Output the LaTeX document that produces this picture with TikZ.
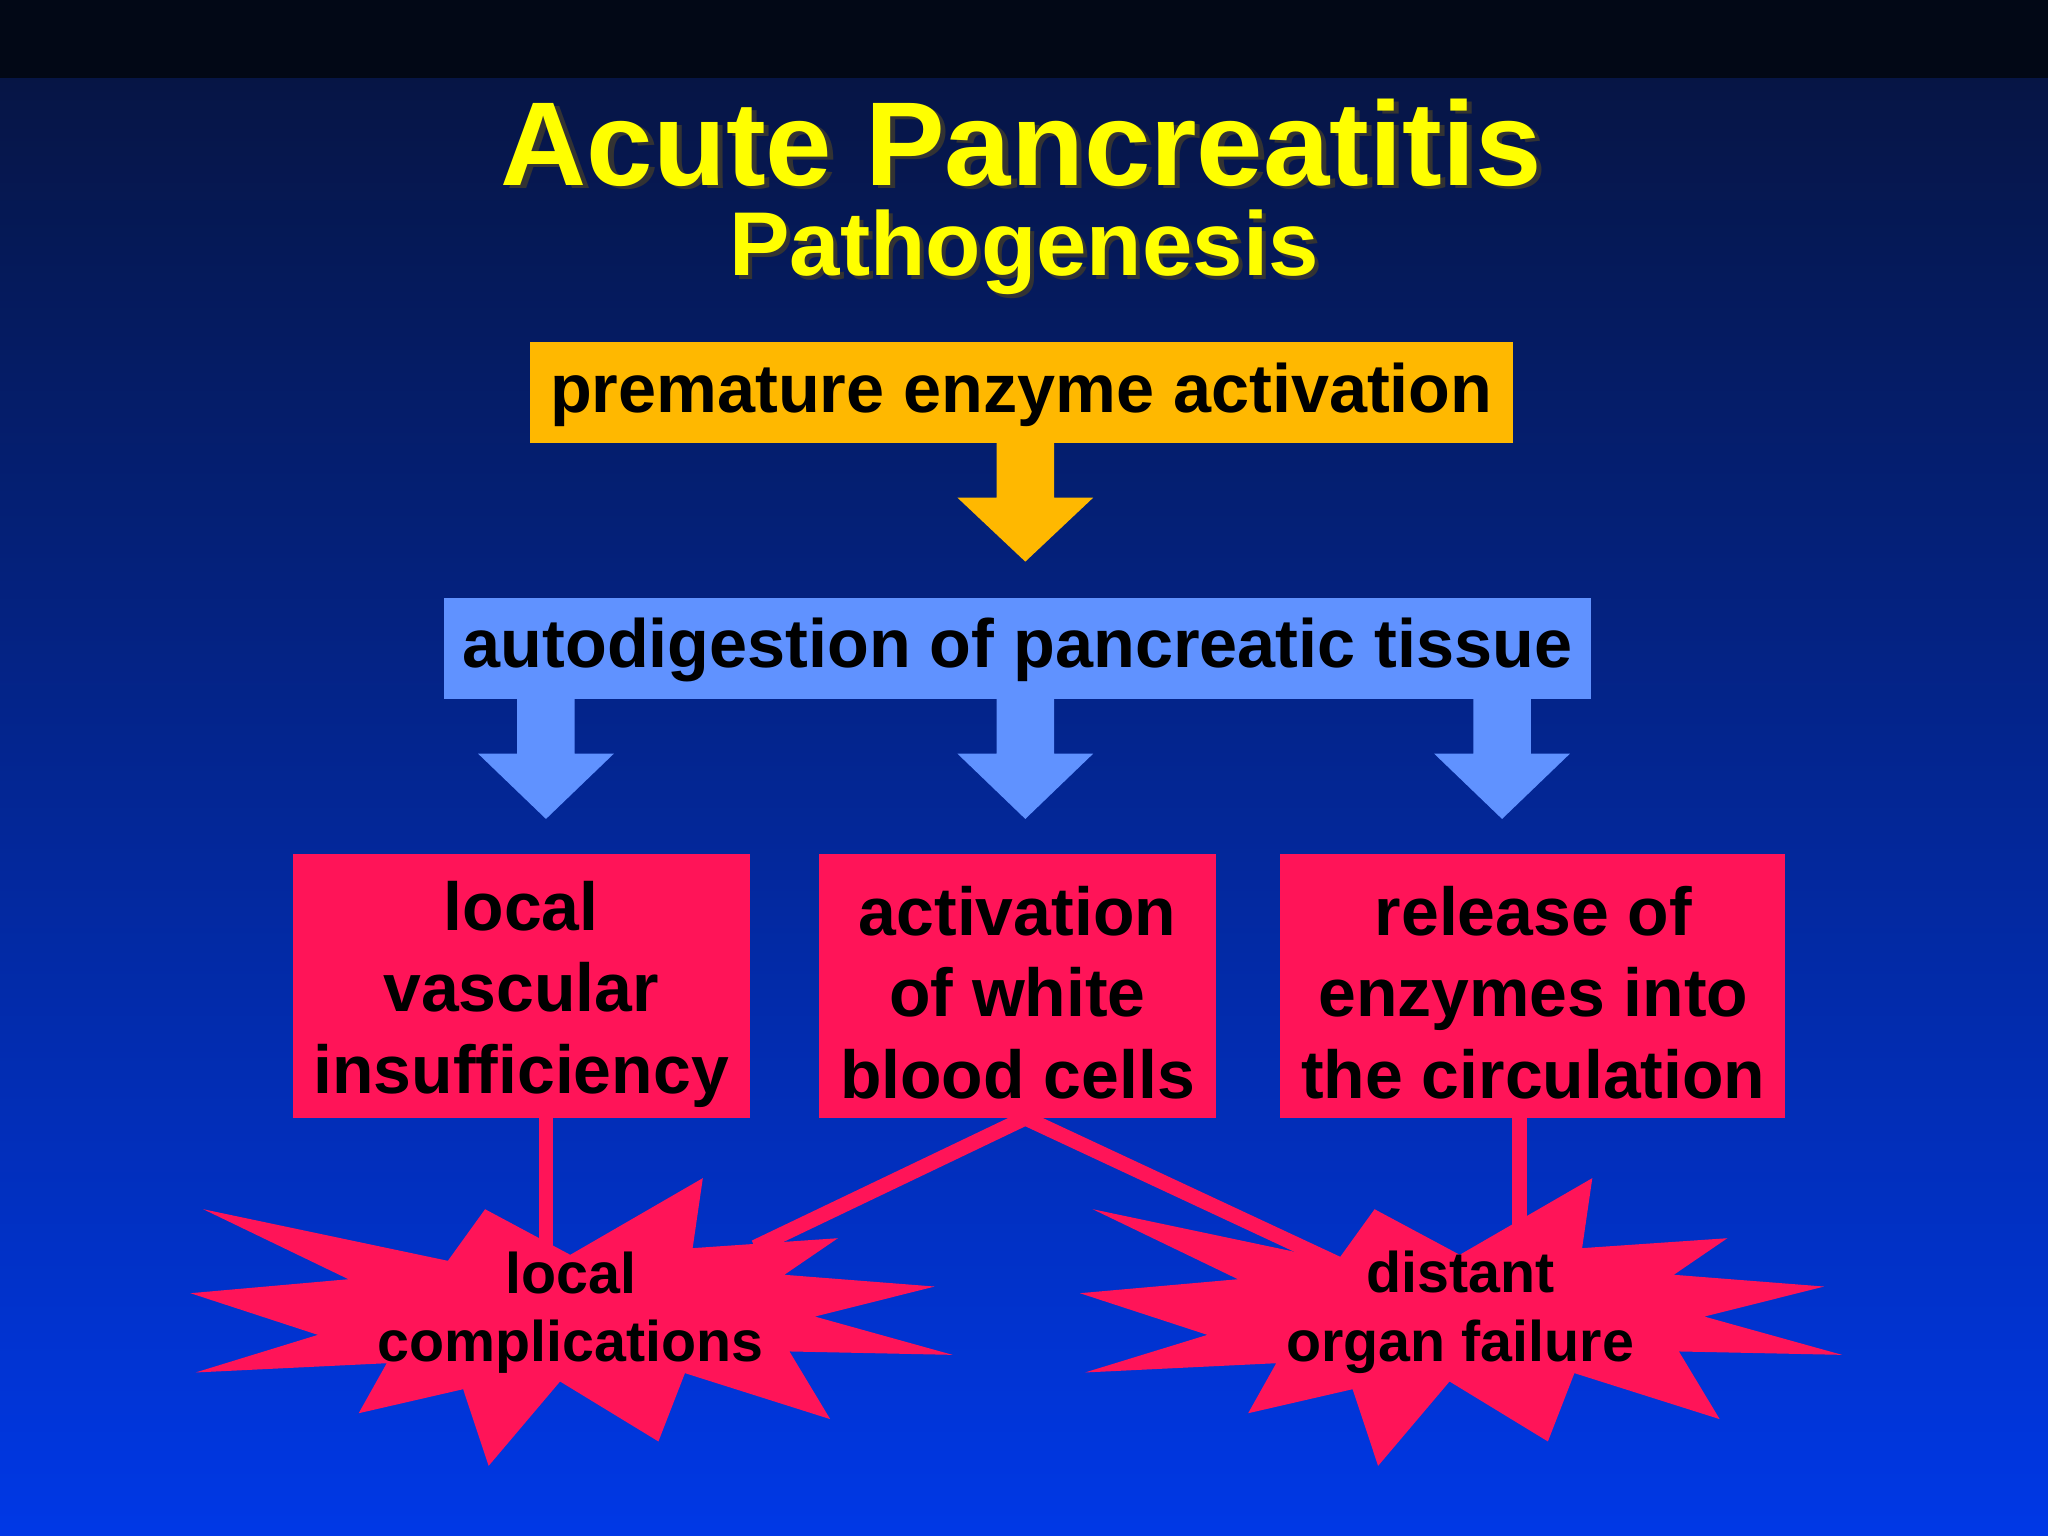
\documentclass[tikz,border=0pt]{standalone}
\usepackage{fontspec}
\setmainfont{Liberation Sans}
\usetikzlibrary{calc}
\definecolor{orng}{HTML}{FFB800}
\definecolor{lblue}{HTML}{6092FF}
\definecolor{rd}{HTML}{FF1458}
\definecolor{ylw}{HTML}{FFFF00}
\definecolor{bgtop}{HTML}{020816}
\definecolor{bga}{HTML}{061545}
\definecolor{bgb}{HTML}{0038E6}
\tikzset{
 bigtxt/.style={font=\fontsize{29.6pt}{35.5pt}\selectfont\bfseries,align=center},
 boxtxt/.style={font=\fontsize{29.8pt}{33pt}\selectfont\bfseries},
 startxt/.style={font=\fontsize{25pt}{30pt}\selectfont\bfseries,align=center},
 link/.style={draw=rd,line width=6.5pt}
}
\begin{document}
\begin{tikzpicture}[x=0.02cm,y=-0.02cm]
\useasboundingbox (0,0) rectangle (1568,1176);
\fill[bgtop] (0,0) rectangle (1568,60);
\shade[top color=bga,bottom color=bgb] (0,60) rectangle (1568,1176);
% title with shadow
\node[text=black!80,font=\fontsize{52pt}{56pt}\selectfont\bfseries] at (786,112) {Acute Pancreatitis};
\node[text=ylw,font=\fontsize{52pt}{56pt}\selectfont\bfseries] (t1) at (782,109) {Acute Pancreatitis};
\node[text=black!80,font=\fontsize{39.5pt}{44pt}\selectfont\bfseries] at (787,196) {Pathogenesis};
\node[text=ylw,font=\fontsize{39.5pt}{44pt}\selectfont\bfseries] (t2) at (784,193) {Pathogenesis};
% boxes
\fill[orng] (406,262) rectangle (1158,339);
\node[boxtxt] (b1) at (782,302) {premature enzyme activation};
\fill[lblue] (340,458) rectangle (1218,535);
\node[boxtxt] (b2) at (779,498) {autodigestion of pancreatic tissue};
\coordinate (b1s) at (785,339);
\coordinate (b2n) at (785,430);
% arrow 1
\fill[orng] ($(b1s)+(-22,0)$) -- ($(b1s)+(22,0)$) -- ($(b1s)+(22,42)$) -- ($(b1s)+(52,42)$) -- (b2n) -- ($(b1s)+(-52,42)$) -- ($(b1s)+(-22,42)$) -- cycle;
% three arrows
\foreach \xx/\nm in {418/a,785/b,1150/c}{
 \coordinate (\nm t) at (\xx,535);
 \coordinate (\nm p) at (\xx,627);
 \fill[lblue] ($(\nm t)+(-22,0)$) -- ($(\nm t)+(22,0)$) -- ($(\nm t)+(22,42)$) -- ($(\nm t)+(52,42)$) -- (\nm p) -- ($(\nm t)+(-52,42)$) -- ($(\nm t)+(-22,42)$) -- cycle;
}
% red boxes
\fill[rd] (224,654) rectangle (574,856);
\fill[rd] (627,654) rectangle (931,856);
\fill[rd] (980,654) rectangle (1367,856);
\node[bigtxt] (r1) at (399,761) {local\\vascular\\insufficiency};
\node[bigtxt] (r2) at (779,760) {activation\\of white\\blood cells};
\node[bigtxt] (r3) at (1174,760) {release of\\enzymes into\\the circulation};
\coordinate (r1s) at (418,856);
\coordinate (r2s) at (785,856);
\coordinate (r3s) at (1163,856);
\coordinate (l1e) at (418,960);
\coordinate (l2e) at (578,955);
\coordinate (l3e) at (1025,968);
\coordinate (l4e) at (1163,940);
\draw[link] (r1s) -- (l1e);
\draw[link] (r2s) -- (l2e);
\draw[link] (r2s) -- (l3e);
\draw[link] (r3s) -- (l4e);
% stars
\foreach \dx in {0,681}{
\fill[rd,shift={(\dx,0)}] (145.8,990.1) -- (266.8,979.4) -- (155.6,925.8) -- (342.9,965.3) -- (371.4,925.8) -- (436.6,960.7) -- (538.1,902.0) -- (530.3,955.6) -- (641.5,948.0) -- (600.5,976.0) -- (715.6,985.0) -- (623.9,1008.0) -- (729.3,1037.3) -- (604.4,1034.7) -- (635.6,1086.5) -- (524.4,1051.3) -- (504.1,1103.6) -- (428.8,1057.7) -- (374.1,1122.3) -- (354.6,1063.6) -- (274.6,1082.0) -- (296.1,1043.7) -- (149.7,1050.8) -- (243.4,1022.0) -- cycle;
}
\node[startxt] (s1) at (437,1005) {local\\complications};
\node[startxt] (s2) at (1118,1005) {distant\\organ failure};
\end{tikzpicture}
\end{document}
